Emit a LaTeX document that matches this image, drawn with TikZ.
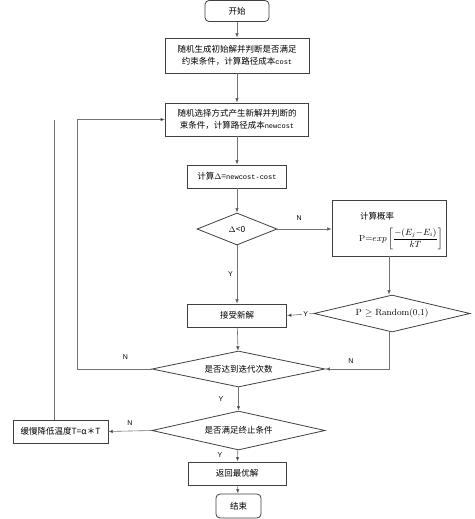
\documentclass[tikz,border=0pt]{standalone}
\usepackage{fontspec}
\usepackage{amsmath}
\newfontfamily\cjk{Noto Sans CJK SC}
\newfontfamily\monof{Liberation Mono}
\newfontfamily\labf{Liberation Sans}
\usetikzlibrary{shapes.geometric,arrows.meta,calc}
\begin{document}
\begin{tikzpicture}[x=1pt,y=-1pt,
  box/.style={draw=black!75,line width=0.8pt,fill=white,inner sep=0pt,align=center,font=\cjk\fontsize{8.5}{12}\selectfont},
  term/.style={box,rounded corners=4pt},
  dia/.style={draw=black!75,line width=0.8pt,fill=white,diamond,inner sep=0pt,font=\cjk\fontsize{8.5}{12}\selectfont},
  conn/.style={draw=black!55,line width=0.6pt,-{Latex[length=4.5pt,width=3.5pt,fill=black]}},
  line/.style={draw=black!55,line width=0.6pt},
  lab/.style={font=\labf\fontsize{7}{8}\selectfont,inner sep=1pt}
]
\useasboundingbox (0,0) rectangle (474,519);
\fill[white] (0,0) rectangle (474,519);
% nodes
\node[term,minimum width=64pt,minimum height=21pt] (start) at (237,11) {开始};
\node[box,minimum width=144pt,minimum height=35pt] (init) at (237,55.5) {随机生成初始解并判断是否满足\\约束条件，计算路径成本{\monof\fontsize{7}{8}\selectfont cost}};
\node[box,minimum width=143pt,minimum height=33pt] (newsol) at (237,119.5) {随机选择方式产生新解并判断的\\束条件，计算路径成本{\monof\fontsize{7}{8}\selectfont newcost}};
\node[box,minimum width=99pt,minimum height=23pt] (delta) at (237,176.5) {计算$\Delta$={\monof\fontsize{7}{8}\selectfont newcost-cost}};
\node[dia,aspect=2.5,minimum width=80pt,minimum height=32pt] (dlt) at (237,229) {{\fontsize{8.5}{10}\selectfont$\Delta$<0}};
\node[box,minimum width=114pt,minimum height=56pt] (prob) at (389,228) {};
\node[anchor=west,inner sep=0pt,font=\cjk\fontsize{8.5}{10}\selectfont] (probt) at (360,216) {计算概率};
\node[anchor=west,inner sep=0pt,font=\fontsize{8.7}{10}\selectfont] (probf) at (359,239) {$\mathrm{P}{=}exp\left[\dfrac{-(E_j{-}E_i)}{kT}\right]$};
\node[box,minimum width=99pt,minimum height=23pt] (accept) at (237,315.5) {接受新解};
\node[dia,aspect=4.2,minimum width=156pt,minimum height=37pt,font=\fontsize{9}{10}\selectfont] (pdia) at (392,313.5) {P $\geq$ Random(0,1)};
\node[dia,aspect=4.8,minimum width=173pt,minimum height=36pt] (iter) at (238.5,369) {是否达到迭代次数};
\node[dia,aspect=4.4,minimum width=173pt,minimum height=39pt] (stop) at (238.5,430.5) {是否满足终止条件};
\node[box,minimum width=95pt,minimum height=23pt] (cool) at (60.5,431.5) {缓慢降低温度T=α＊T};
\node[box,minimum width=98pt,minimum height=23pt] (ret) at (237,473.5) {返回最优解};
\node[term,minimum width=45pt,minimum height=24pt] (end) at (238.5,506) {结束};
\coordinate (jn) at (54,119.5);
\coordinate (itl) at (77,369);
% connectors
\draw[conn] (start) -- (init);
\draw[conn] (init) -- (newsol);
\draw[conn] (newsol) -- (delta);
\draw[conn] (delta) -- (dlt);
\draw[conn] (dlt) -- node[lab,pos=0.5,left=3pt] (ly1) {Y} (accept);
\draw[conn] (dlt.east) -- node[lab,above=7pt,pos=0.4] (ln1) {N} (prob.west |- dlt.east);
\draw[conn] (prob.south) -- (prob.south |- pdia.north);
\draw[conn] (pdia.west) -- node[lab,fill=white,pos=0.3] (ly2) {Y} (accept.east);
\draw[conn] (prob.south |- pdia.south) |- node[lab,pos=0.8,above=4pt] (ln2) {N} (iter.east);
\draw[conn] (accept) -- (iter);
\draw[conn] (iter.west) -- node[lab,above=8pt,pos=0.35] (ln3) {N} (itl) |- (newsol.west);
\draw[conn] (iter) -- node[lab,pos=0.5,left=14pt] (ly3) {Y} (stop);
\draw[conn] (stop.west) -- node[lab,above=4pt,pos=0.5] (ln4) {N} (cool.east);
\draw[conn] (stop) -- node[lab,pos=0.4,left=14pt] (ly4) {Y} (ret);
\draw[conn] (ret) -- (end);
\draw[line] (cool.north -| jn) -- (jn);
\end{tikzpicture}
\end{document}
